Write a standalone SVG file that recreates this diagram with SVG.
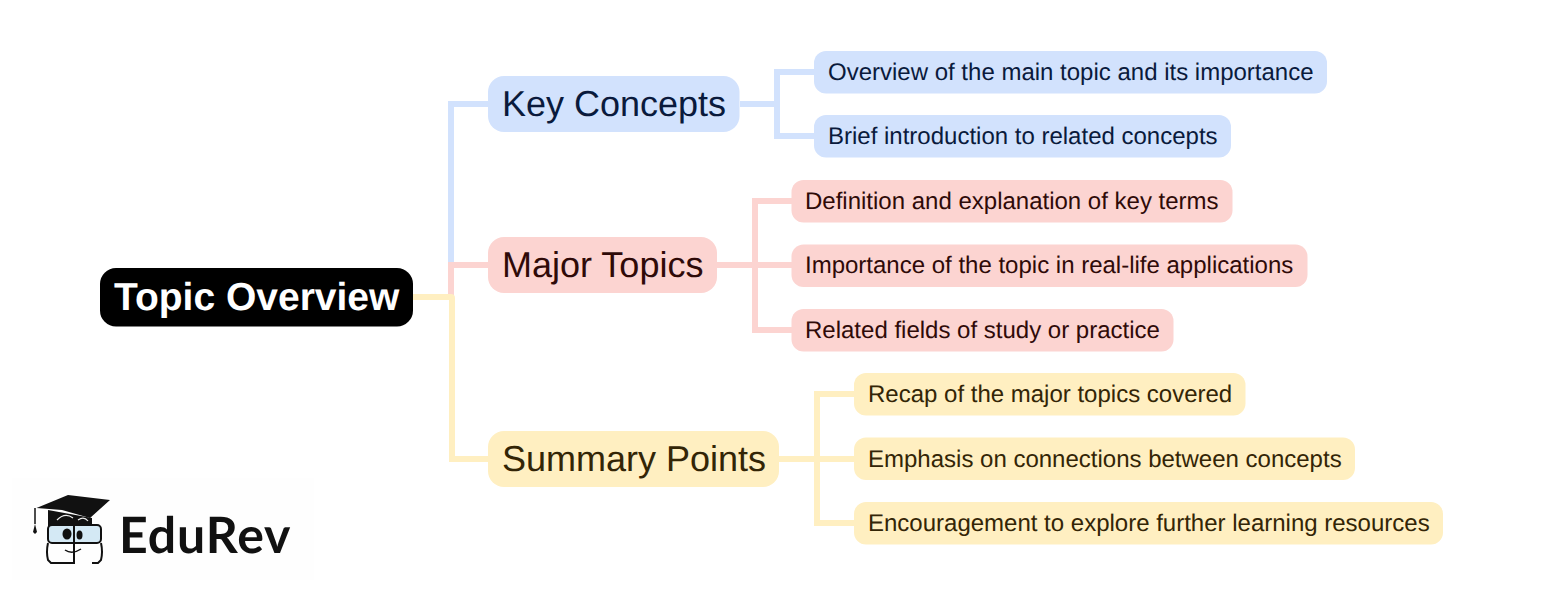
<svg xmlns="http://www.w3.org/2000/svg" width="1543" height="595" viewBox="0 0 1543 595">
<style>
text{font-family:"Liberation Sans",Arial,sans-serif;text-rendering:geometricPrecision}
.l1{font-size:36px}
.l2{font-size:24px}
.b{fill:#d2e2fd}.bt{fill:#0a1a3c}
.r{fill:#fcd4d1}.rt{fill:#2f0a08}
.y{fill:#ffefc1}.yt{fill:#332506}
.cb,.cr,.cy{fill:none;stroke-width:6}
.cb{stroke:#d2e2fd}.cr{stroke:#fcd4d1}.cy{stroke:#ffefc1}
</style>
<rect width="1543" height="595" fill="#fff"/>
<g id="connectors">
<path class="cb" d="M451 297V104H488"/>
<path class="cr" d="M451 297V265H488"/>
<path class="cy" d="M413 297H451Q452 297 452 298V459H488"/>
<path class="cb" d="M740 104H777M814 72H777V136H814"/>
<path class="cr" d="M717 265H792M792 201H755V330H792"/>
<path class="cy" d="M779 459H854M854 394H817V523H854"/>
</g>
<g id="root"><rect x="100" y="268" width="313" height="58.500" rx="16"/><text x="114" y="310" font-size="39" font-weight="700" fill="#fff">Topic Overview</text></g>
<g id="key-concepts"><rect class="b" x="488" y="76" width="251.500" height="56" rx="16"/><text class="l1 bt" x="502" y="116">Key Concepts</text></g>
<g id="major-topics"><rect class="r" x="488" y="237" width="229" height="56" rx="16"/><text class="l1 rt" x="502" y="277">Major Topics</text></g>
<g id="summary-points"><rect class="y" x="488" y="431" width="291" height="56" rx="16"/><text class="l1 yt" x="502" y="471">Summary Points</text></g>
<g id="k1"><rect class="b" x="814" y="51" width="513" height="42.500" rx="12"/><text class="l2 bt" x="828" y="80">Overview of the main topic and its importance</text></g>
<g id="k2"><rect class="b" x="814" y="115" width="417" height="42.500" rx="12"/><text class="l2 bt" x="828" y="144">Brief introduction to related concepts</text></g>
<g id="m1"><rect class="r" x="791.500" y="180" width="441" height="42.500" rx="12"/><text class="l2 rt" x="805" y="209">Definition and explanation of key terms</text></g>
<g id="m2"><rect class="r" x="791.500" y="244.500" width="516" height="42.500" rx="12"/><text class="l2 rt" x="805" y="273">Importance of the topic in real-life applications</text></g>
<g id="m3"><rect class="r" x="791.500" y="309" width="382" height="42.500" rx="12"/><text class="l2 rt" x="805" y="338">Related fields of study or practice</text></g>
<g id="s1"><rect class="y" x="854" y="373" width="391.500" height="42.500" rx="12"/><text class="l2 yt" x="868" y="402">Recap of the major topics covered</text></g>
<g id="s2"><rect class="y" x="854" y="437.500" width="501" height="42.500" rx="12"/><text class="l2 yt" x="868" y="467">Emphasis on connections between concepts</text></g>
<g id="s3"><rect class="y" x="854" y="502" width="589" height="42.500" rx="12"/><text class="l2 yt" x="868" y="531">Encouragement to explore further learning resources</text></g>
<g id="logo">
<rect x="12" y="478" width="302" height="102" fill="#fefefe"/>
<path d="M48 510L92 518V526H48Z" fill="#111"/>
<path d="M36.500 508L68 495L110 500L90 518L62 510Z" fill="#111"/>
<path d="M35 508V524" stroke="#111" stroke-width="1.500" fill="none"/>
<path d="M33 532L35 524L37 532L35 534Z" fill="#111"/>
<rect x="48" y="525" width="53" height="18" rx="4" fill="#d4e9f5" stroke="#111" stroke-width="2"/>
<path d="M48 543Q46 552 48 560L51 563H74V525M101 543Q103 552 101 560L98 563H92" fill="none" stroke="#111" stroke-width="2"/>
<path d="M57 520Q65 512 73 518M78 520Q84 516 88 521" fill="none" stroke="#eee" stroke-width="1.200"/>
<ellipse cx="67" cy="534" rx="4.500" ry="5.500" fill="#111"/><ellipse cx="79.500" cy="535" rx="3" ry="4.500" fill="#111"/>
<path d="M65 550Q72 555 81 549" fill="none" stroke="#111" stroke-width="1.500"/>
<text x="119" y="552.500" font-size="50" font-weight="700" letter-spacing="0.900" fill="#111" style="font-family:Lato,'Noto Sans',sans-serif">EduRev</text>
</g>
</svg>
